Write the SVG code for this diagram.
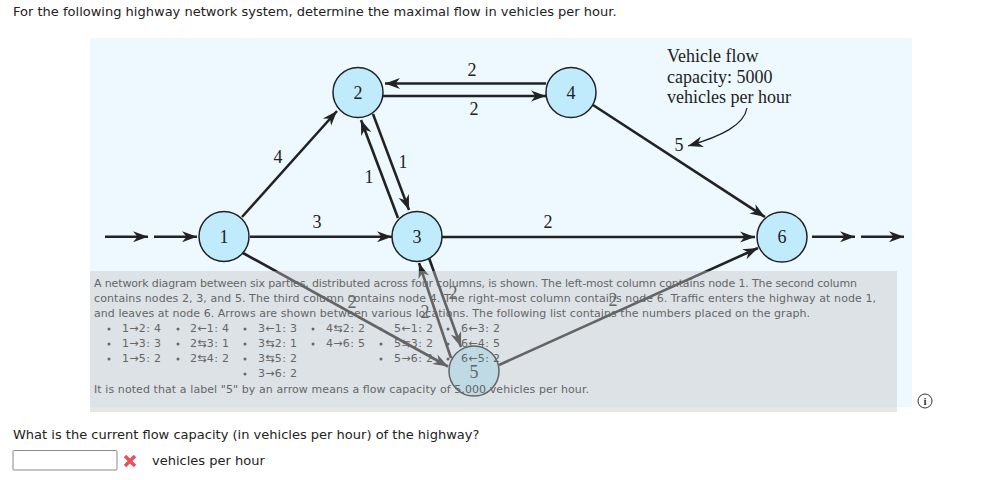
<svg xmlns="http://www.w3.org/2000/svg" width="1008" height="480" viewBox="0 0 1008 480">
<style>
.ui{font-family:"DejaVu Sans",Verdana,sans-serif;font-size:13.03px;fill:#222}
.alt{font-family:"DejaVu Sans",Verdana,sans-serif;font-size:11px;fill:#666}
.s{font-family:"Liberation Serif","Times New Roman",serif;font-size:18px;fill:#222}
.n{font-family:"Liberation Serif","Times New Roman",serif;font-size:18px;fill:#222;text-anchor:middle}
.c{fill:#bfebfd;stroke:#222;stroke-width:1.5}
.e{stroke:#222;stroke-width:2.6;fill:none;marker-end:url(#a)}
.b{fill:#666}
</style>
<defs>
<marker id="a" markerUnits="userSpaceOnUse" viewBox="-16 -6 17 12" refX="0" refY="0" markerWidth="17" markerHeight="12" orient="auto">
<path d="M0,0 L-15,-5.5 L-10.5,0 L-15,5.5 Z" fill="#222"/>
</marker>
</defs>
<rect width="1008" height="480" fill="#fff"/>
<text class="ui" x="13" y="16">For the following highway network system, determine the maximal flow in vehicles per hour.</text>
<rect x="90" y="38" width="822" height="369" fill="#eef9ff"/>
<g id="connectors">
<line class="e" x1="105" y1="236.7" x2="148" y2="236.7"/>
<line class="e" x1="154" y1="236.7" x2="197" y2="236.7"/>
<line class="e" x1="242" y1="217" x2="337" y2="111"/>
<line class="e" x1="250" y1="236.7" x2="392" y2="236.7"/>
<line class="e" x1="243" y1="253" x2="448" y2="366.5"/>
<line class="e" x1="546" y1="83.5" x2="385" y2="83.5"/>
<line class="e" x1="383" y1="96" x2="546" y2="96"/>
<line class="e" x1="373" y1="114" x2="409" y2="210"/>
<line class="e" x1="398" y1="218" x2="361" y2="120"/>
<line class="e" x1="442" y1="237" x2="755" y2="237"/>
<line class="e" x1="429" y1="258" x2="461" y2="347"/>
<line class="e" x1="451" y1="358" x2="419" y2="263"/>
<line class="e" x1="593" y1="105" x2="765" y2="217"/>
<line class="e" x1="499" y1="365" x2="758" y2="248"/>
<line class="e" x1="812" y1="236.7" x2="855" y2="236.7"/>
<line class="e" x1="861" y1="236.7" x2="904" y2="236.7"/>
<path d="M747,108 C744,125 722,136 688,146" fill="none" stroke="#222" stroke-width="1.3" marker-end="url(#a)"/>
</g>
<g id="node1"><circle class="c" cx="224" cy="236.5" r="25"/><text class="n" x="224" y="242.500">1</text></g>
<g id="node2"><circle class="c" cx="358" cy="92.500" r="25"/><text class="n" x="358" y="98.500">2</text></g>
<g id="node3"><circle class="c" cx="417" cy="236.500" r="25"/><text class="n" x="417" y="242.500">3</text></g>
<g id="node4"><circle class="c" cx="571" cy="92.500" r="25"/><text class="n" x="571" y="98.500">4</text></g>
<g id="node5"><circle class="c" cx="474" cy="371" r="25"/><text class="n" x="474" y="378">5</text></g>
<g id="node6"><circle class="c" cx="782" cy="237" r="25"/><text class="n" x="782" y="243">6</text></g>
<g id="labels">
<text class="n" x="472" y="76">2</text>
<text class="n" x="474" y="115">2</text>
<text class="n" x="278" y="163">4</text>
<text class="n" x="317" y="228">3</text>
<text class="n" x="403" y="168">1</text>
<text class="n" x="369" y="183">1</text>
<text class="n" x="548" y="228">2</text>
<text class="n" x="679" y="151">5</text>
<text class="n" x="352" y="308">2</text>
<text class="n" x="453" y="299">2</text>
<text class="n" x="425" y="318">2</text>
<text class="n" x="613" y="306">2</text>
<text class="s" x="667" y="62">Vehicle flow</text>
<text class="s" x="667" y="83">capacity: 5000</text>
<text class="s" x="667" y="103">vehicles per hour</text>
</g>
<rect x="90" y="271" width="807" height="141" fill="#c2c2c2" fill-opacity=".41"/>
<g id="description">
<text class="alt" x="94" y="287" textLength="763">A network diagram between six parties, distributed across four columns, is shown. The left-most column contains node 1. The second column</text>
<text class="alt" x="94" y="302" textLength="782">contains nodes 2, 3, and 5. The third column contains node 4. The right-most column contains node 6. Traffic enters the highway at node 1,</text>
<text class="alt" x="94" y="317" textLength="716">and leaves at node 6. Arrows are shown between various locations. The following list contains the numbers placed on the graph.</text>
<g id="bullets">
<circle class="b" cx="109" cy="329" r="1.500"/><circle class="b" cx="178" cy="329" r="1.500"/><circle class="b" cx="245" cy="329" r="1.500"/><circle class="b" cx="313" cy="329" r="1.500"/><circle class="b" cx="381" cy="329" r="1.500"/><circle class="b" cx="448" cy="329" r="1.500"/>
<circle class="b" cx="109" cy="344" r="1.500"/><circle class="b" cx="178" cy="344" r="1.500"/><circle class="b" cx="245" cy="344" r="1.500"/><circle class="b" cx="313" cy="344" r="1.500"/><circle class="b" cx="381" cy="344" r="1.500"/><circle class="b" cx="448" cy="344" r="1.500"/>
<circle class="b" cx="109" cy="359" r="1.500"/><circle class="b" cx="178" cy="359" r="1.500"/><circle class="b" cx="245" cy="359" r="1.500"/><circle class="b" cx="381" cy="359" r="1.500"/><circle class="b" cx="448" cy="359" r="1.500"/>
<circle class="b" cx="245" cy="374" r="1.500"/>
</g>
<text class="alt" x="122" y="332" textLength="39">1→2: 4</text><text class="alt" x="190" y="332" textLength="39">2←1: 4</text><text class="alt" x="258" y="332" textLength="39">3←1: 3</text><text class="alt" x="326" y="332" textLength="39">4⇆2: 2</text><text class="alt" x="394" y="332" textLength="39">5←1: 2</text><text class="alt" x="461" y="332" textLength="39">6←3: 2</text>
<text class="alt" x="122" y="347" textLength="39">1→3: 3</text><text class="alt" x="190" y="347" textLength="39">2⇆3: 1</text><text class="alt" x="258" y="347" textLength="39">3⇆2: 1</text><text class="alt" x="326" y="347" textLength="39">4→6: 5</text><text class="alt" x="394" y="347" textLength="39">5⇆3: 2</text><text class="alt" x="461" y="347" textLength="39">6←4: 5</text>
<text class="alt" x="122" y="362" textLength="39">1→5: 2</text><text class="alt" x="190" y="362" textLength="39">2⇆4: 2</text><text class="alt" x="258" y="362" textLength="39">3⇆5: 2</text><text class="alt" x="394" y="362" textLength="39">5→6: 2</text><text class="alt" x="461" y="362" textLength="39">6←5: 2</text>
<text class="alt" x="258" y="377" textLength="39">3→6: 2</text>
<text class="alt" x="94" y="393" textLength="495">It is noted that a label "5" by an arrow means a flow capacity of 5,000 vehicles per hour.</text>
</g>
<g id="question">
<text class="ui" x="13" y="439">What is the current flow capacity (in vehicles per hour) of the highway?</text>
<rect x="13" y="450.500" width="104" height="19.500" rx="1" fill="#fff" stroke="#888" stroke-width="1"/>
<path d="M125,456 L135,466 M135,456 L125,466" stroke="#e8505b" stroke-width="3.500"/>
<text class="ui" x="152" y="465">vehicles per hour</text>
</g>
<g id="info">
<circle cx="925" cy="401" r="7" fill="#fff" stroke="#333" stroke-width="1"/>
<text x="925" y="405" text-anchor="middle" style="font-family:'Liberation Serif',serif;font-size:11px;font-weight:bold" fill="#333">i</text>
</g>
</svg>
